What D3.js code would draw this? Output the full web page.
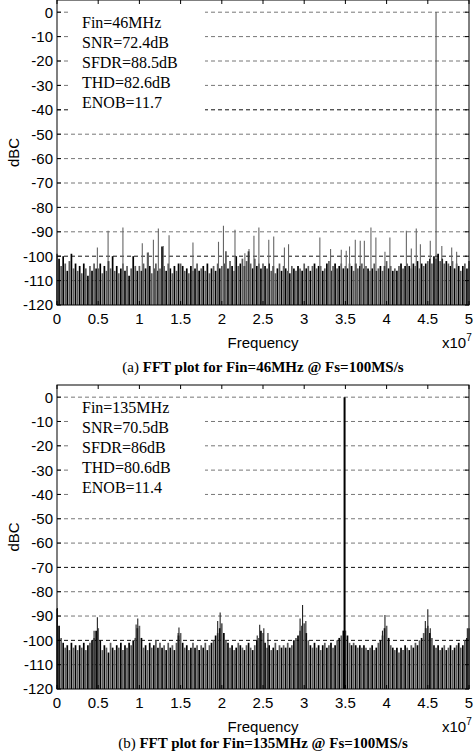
<!DOCTYPE html>
<html>
<head>
<meta charset="utf-8">
<script src="https://cdnjs.cloudflare.com/ajax/libs/d3/7.8.5/d3.min.js"></script>
<style>
body { margin: 0; background: #fff; }
svg { display: block; }
</style>
</head>
<body>
<div id="chart"></div>
<script>
// axis ticks
const yTicks = [0, -10, -20, -30, -40, -50, -60, -70, -80, -90, -100, -110, -120];
const xTicks = [0, 0.5, 1, 1.5, 2, 2.5, 3, 3.5, 4, 4.5, 5];
const xTickLabels = ['0', '0.5', '1', '1.5', '2', '2.5', '3', '3.5', '4', '4.5', '5'];

// noise floor, one value every 0.025 x10^7 Hz (0 .. 5)
const floorA = [
  -99, -101, -104, -100, -103, -106, -102, -99, -105, -103,
  -106, -104, -107, -103, -105, -108, -104, -106, -103, -105,
  -105, -103, -107, -104, -106, -102, -105, -100, -106, -104,
  -107, -105, -103, -106, -104, -108, -105, -100, -104, -106,
  -104, -106, -103, -105, -98.5, -104, -107, -105, -103, -106,
  -105, -96, -104, -106, -103, -105, -107, -104, -106, -103,
  -103, -104, -106, -105, -107, -104, -106, -105, -103, -106,
  -105, -104, -106, -103, -107, -105, -104, -106, -103, -105,
  -104, -103, -98, -105, -102, -104, -106, -100, -104, -103,
  -101, -104, -102, -98, -103, -105, -101, -104, -103, -105,
  -103, -104, -105, -103, -106, -104, -107, -105, -103, -106,
  -104, -105, -106, -107, -104, -105, -106, -104, -105, -106,
  -103, -105, -104, -106, -104, -103, -105, -104, -104, -106,
  -105, -103, -102, -106, -104, -103, -105, -104, -103, -105,
  -104, -105, -103, -104, -106, -103, -105, -104, -103, -105,
  -104, -105, -106, -105, -103, -106, -105, -104, -106, -104,
  -102, -105, -104, -106, -105, -106, -104, -103, -105, -104,
  -103, -104, -105, -103, -104, -102, -105, -103, -104, -103,
  -102, -101, -103, -100, -101, -99, -102, -101, -103, -102,
  -103, -104, -102, -105, -103, -104, -106, -104, -103, -105,
  -102
];
const spurFreqA = [0.49, 0.62, 0.80, 1.035, 1.11, 1.17, 1.23, 1.29, 1.36, 1.65, 1.96, 2.02, 2.16, 2.28, 2.33, 2.39, 2.45,
  2.57, 2.63, 2.76, 2.81, 3.19, 3.32, 3.45, 3.51, 3.55, 3.62, 3.68, 3.73, 3.81, 3.87, 3.98, 4.04, 4.24, 4.30, 4.36, 4.41,
  4.53, 4.67, 4.79, 4.85];
const spurDbA = [-96.4, -89.6, -88.2, -94.7, -98.5, -93.3, -88.6, -95.8, -91.4, -94.4, -94.1, -87.5, -89.2, -98.8, -97.1, -91.6, -88.2,
  -93.3, -91.9, -96.4, -95.1, -92.3, -97.1, -97.4, -97.8, -96, -93.3, -93.7, -93.7, -88.2, -92.3, -98.2, -92.3, -89.6, -96.8, -88.6, -95.1,
  -93.7, -95.8, -96.4, -98.2];
const carrierA = 4.6;
const notesA = ['Fin=46MHz', 'SNR=72.4dB', 'SFDR=88.5dB', 'THD=82.6dB', 'ENOB=11.7'];

const floorB = [
  -87, -94, -99, -101, -103, -102, -104, -101, -103, -102,
  -104, -102, -103, -101, -104, -102, -101, -100, -99, -96,
  -95, -100, -104, -102, -103, -105, -101, -103, -104, -102,
  -103, -101, -104, -102, -103, -101, -102, -100, -99, -95,
  -94, -99, -103, -102, -104, -101, -103, -102, -100, -103,
  -101, -103, -102, -104, -101, -103, -102, -104, -101, -98,
  -97, -101, -103, -102, -104, -103, -101, -103, -102, -104,
  -102, -103, -101, -104, -102, -101, -100, -98, -97, -95,
  -93, -97, -100, -101, -103, -102, -104, -103, -101, -102,
  -103, -104, -102, -101, -103, -104, -102, -100, -99, -96,
  -97, -101, -103, -102, -104, -103, -101, -104, -102, -103,
  -102, -103, -101, -103, -102, -100, -99, -98, -96, -94,
  -93, -97, -100, -102, -103, -101, -103, -102, -104, -102,
  -101, -103, -102, -101, -103, -102, -100, -99, -98, -96,
  -96, -98, -101, -102, -101, -102, -103, -102, -103, -102,
  -103, -104, -103, -102, -104, -103, -101, -100, -98, -95,
  -94, -99, -102, -103, -104, -103, -105, -103, -104, -102,
  -103, -104, -102, -103, -101, -102, -100, -99, -97, -95,
  -94, -97, -99, -102, -103, -102, -104, -103, -102, -104,
  -103, -102, -104, -103, -102, -101, -103, -102, -100, -99,
  -95
];
const spurFreqB = [0.005, 0.45, 0.49, 0.96, 0.98, 1.47, 1.48, 1.95, 1.98, 2.43, 2.46, 2.51, 2.56,
  2.95, 2.98, 3.02, 3.95, 3.98, 4.47, 4.5, 4.53, 4.98];
const spurDbB = [-86.7, -96, -90.5, -93.5, -91, -97, -94.7, -92, -88.5, -98, -93.6, -95, -97,
  -91, -85.5, -92, -96, -89.6, -92, -87.2, -95, -95];
const carrierB = 3.49;
const notesB = ['Fin=135MHz', 'SNR=70.5dB', 'SFDR=86dB', 'THD=80.6dB', 'ENOB=11.4'];

const W = 474, H = 753;
const svg = d3.select('#chart').append('svg').attr('width', W).attr('height', H);

const sans = 'Liberation Sans, Arial, sans-serif';
const serif = 'Liberation Serif, Times New Roman, serif';

function draw_panel(cfg){
    const xScale = d3.scaleLinear().domain([0, 5]).range([57, 469]);
    const yScale = d3.scaleLinear().domain([-120, 5]).range([cfg.bottom, cfg.top]);
    const g = svg.append('g');

    // grid
    g.selectAll('.grid')
        .data(yTicks.filter(d => d > -120))
        .enter()
        .append('line')
        .attr('x1', xScale(0)).attr('x2', xScale(5))
        .attr('y1', d => yScale(d)).attr('y2', d => yScale(d))
        .attr('stroke', d => cfg.darkGrid.includes(d) ? '#111' : '#777')
        .attr('stroke-width', 1)
        .attr('stroke-dasharray', '4,3');

    // text box covers the grid
    g.append('rect')
        .attr('x', 70).attr('y', cfg.boxTop)
        .attr('width', 135).attr('height', cfg.boxBottom - cfg.boxTop)
        .attr('fill', '#fff');

    // noise floor strokes
    const step = 5 / (cfg.floor.length - 1);
    g.selectAll('.floor')
        .data(cfg.floor)
        .enter()
        .append('line')
        .attr('x1', (d, i) => xScale(i * step)).attr('x2', (d, i) => xScale(i * step))
        .attr('y1', yScale(-120)).attr('y2', d => yScale(d))
        .attr('stroke', (d, i) => i % 2 ? '#000' : '#5a5a5a')
        .attr('stroke-width', 1.7);

    // spurs
    g.selectAll('.spur')
        .data(cfg.spurF)
        .enter()
        .append('line')
        .attr('x1', d => xScale(d)).attr('x2', d => xScale(d))
        .attr('y1', yScale(-120)).attr('y2', (d, i) => yScale(cfg.spurDb[i]))
        .attr('stroke', cfg.spurColor)
        .attr('stroke-width', 1.1);

    // carrier
    g.append('line')
        .attr('x1', xScale(cfg.carrier)).attr('x2', xScale(cfg.carrier))
        .attr('y1', yScale(-120)).attr('y2', yScale(0))
        .attr('stroke', cfg.carrierColor)
        .attr('stroke-width', cfg.carrierWidth);

    // frame
    g.append('rect')
        .attr('x', xScale(0)).attr('y', yScale(5))
        .attr('width', xScale(5) - xScale(0)).attr('height', yScale(-120) - yScale(5))
        .attr('fill', 'none').attr('stroke', '#000').attr('stroke-width', 1);

    // inward ticks
    const tk = 4;
    xTicks.forEach(t => {
        g.append('line').attr('x1', xScale(t)).attr('x2', xScale(t))
            .attr('y1', yScale(5)).attr('y2', yScale(5) + tk).attr('stroke', '#000');
        g.append('line').attr('x1', xScale(t)).attr('x2', xScale(t))
            .attr('y1', yScale(-120)).attr('y2', yScale(-120) - tk).attr('stroke', '#000');
    });
    yTicks.forEach(t => {
        g.append('line').attr('x1', xScale(0)).attr('x2', xScale(0) + tk)
            .attr('y1', yScale(t)).attr('y2', yScale(t)).attr('stroke', '#000');
        g.append('line').attr('x1', xScale(5)).attr('x2', xScale(5) - tk)
            .attr('y1', yScale(t)).attr('y2', yScale(t)).attr('stroke', '#000');
    });

    // tick labels
    g.selectAll('.ylab')
        .data(yTicks)
        .enter()
        .append('text')
        .attr('x', 53).attr('y', d => yScale(d))
        .attr('dy', '0.36em')
        .attr('text-anchor', 'end')
        .attr('font-family', sans).attr('font-size', 15)
        .text(d => d);
    g.selectAll('.xlab')
        .data(xTicks)
        .enter()
        .append('text')
        .attr('x', d => xScale(d)).attr('y', yScale(-120) + 19)
        .attr('text-anchor', 'middle')
        .attr('font-family', sans).attr('font-size', 15)
        .text((d, i) => xTickLabels[i]);

    // axis titles
    g.append('text')
        .attr('x', 263).attr('y', yScale(-120) + 43)
        .attr('text-anchor', 'middle')
        .attr('font-family', sans).attr('font-size', 15)
        .text('Frequency');
    const ex = g.append('text')
        .attr('x', 442).attr('y', yScale(-120) + 43)
        .attr('font-family', sans).attr('font-size', 15);
    ex.append('tspan').text('x10');
    ex.append('tspan').attr('dy', -7).attr('font-size', 10).text('7');
    g.append('text')
        .attr('transform', 'translate(19,' + ((yScale(5) + yScale(-120)) / 2) + ') rotate(-90)')
        .attr('text-anchor', 'middle')
        .attr('font-family', sans).attr('font-size', 15)
        .text('dBC');

    // annotations
    g.selectAll('.note')
        .data(cfg.notes)
        .enter()
        .append('text')
        .attr('x', 82).attr('y', (d, i) => cfg.noteTop + i * 20)
        .attr('dy', '0.35em')
        .attr('font-family', serif).attr('font-size', 16)
        .text(d => d);

    // caption
    const cap = g.append('text')
        .attr('x', 263).attr('y', cfg.captionY)
        .attr('text-anchor', 'middle')
        .attr('font-family', serif).attr('font-size', 15);
    cap.append('tspan').text(cfg.tag + '  ');
    cap.append('tspan').attr('font-weight', 'bold').text(cfg.caption);
}

draw_panel({
    top: 0, bottom: 305,
    floor: floorA, spurF: spurFreqA, spurDb: spurDbA,
    spurColor: '#666', carrier: carrierA, carrierColor: '#444', carrierWidth: 1,
    darkGrid: [-40, -100],
    boxTop: 4, boxBottom: 117, noteTop: 22,
    notes: notesA,
    tag: '(a)', caption: 'FFT plot for Fin=46MHz @ Fs=100MS/s', captionY: 372
});
draw_panel({
    top: 385, bottom: 689,
    floor: floorB, spurF: spurFreqB, spurDb: spurDbB,
    spurColor: '#222', carrier: carrierB, carrierColor: '#000', carrierWidth: 2,
    darkGrid: [-70, -100],
    boxTop: 400, boxBottom: 504, noteTop: 407,
    notes: notesB,
    tag: '(b)', caption: 'FFT plot for Fin=135MHz @ Fs=100MS/s', captionY: 748
});
</script>
</body>
</html>
